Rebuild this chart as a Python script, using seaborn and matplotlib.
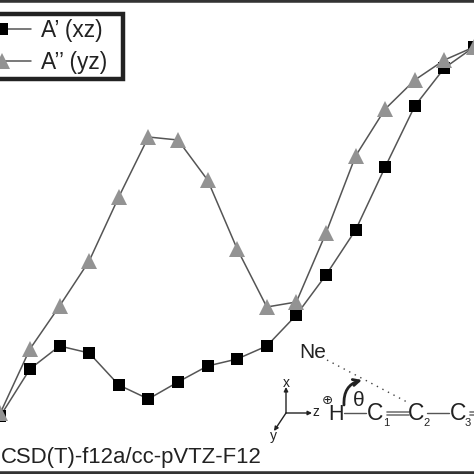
"""Ne-HC3H+ angular energy cuts, A' and A'' states."""
import matplotlib
matplotlib.use("Agg")
import matplotlib.pyplot as plt
import pandas as pd
import seaborn as sns
from matplotlib.lines import Line2D

theta = [0, 5, 10, 15, 20, 25, 30, 35, 40, 45, 50, 55, 60, 65, 70, 75, 80]
# heights (arbitrary energy units, axis is cropped)
a_prime = [58, 105, 128, 121, 89, 75, 92, 108, 115, 128, 159, 199, 244, 307, 368, 406, 427]
a_dprime = [61, 125, 168, 213, 277, 337, 334, 294, 225, 167, 172, 241, 318, 365, 394, 414, 427]

labels = ["A’ (xz)", "A’’ (yz)"]
DARK = "#333333"
GREY = "#939393"
LINE = "#555555"

df = pd.DataFrame({"theta": theta + theta,
                   "energy": a_prime + a_dprime,
                   "state": [labels[0]] * len(theta) + [labels[1]] * len(theta)})

sns.set_theme(style="white")
plt.rcParams["font.family"] = ["Liberation Sans", "DejaVu Sans"]

fig = plt.figure(figsize=(4.74, 4.74), dpi=100)
ax = fig.add_axes([0, 0, 1, 1])

sns.lineplot(data=df[df.state == labels[0]], x="theta", y="energy", ax=ax, color=LINE,
             linewidth=1.1, marker="s", markersize=8.2, markerfacecolor="black",
             markeredgecolor="black", markeredgewidth=0, zorder=3, clip_on=True)
sns.lineplot(data=df[df.state == labels[1]], x="theta", y="energy", ax=ax, color=LINE,
             linewidth=1.1, marker="^", markersize=11, markerfacecolor=GREY,
             markeredgecolor=GREY, markeredgewidth=0, zorder=4, clip_on=True)

ax.set_xlim(-0.06, 80.0)
ax.set_ylim(0, 474)
ax.set_xlabel("")
ax.set_ylabel("")
ax.set_xticks([])
ax.set_yticks([])
for side in ["left", "right"]:
    ax.spines[side].set_visible(False)
for side in ["top", "bottom"]:
    ax.spines[side].set_color(DARK)
    ax.spines[side].set_linewidth(4)

handles = [
    Line2D([], [], color=LINE, linewidth=1.1, marker="s", markersize=8.2,
           markerfacecolor="black", markeredgewidth=0),
    Line2D([], [], color=LINE, linewidth=1.1, marker="^", markersize=11,
           markerfacecolor=GREY, markeredgewidth=0),
]
leg = ax.legend(handles, labels, loc="upper left", bbox_to_anchor=(-0.067, 0.971, 0.327, 0),
                mode="expand", borderaxespad=0, fontsize=16.4, fancybox=False, framealpha=1,
                edgecolor="#222222", handlelength=2.5, handletextpad=0.44,
                labelspacing=0.36, borderpad=0.25, markerfirst=True)
leg.get_frame().set_linewidth(3.2)
leg.get_frame().set_zorder(6)
for t in leg.get_texts():
    t.set_color("#222222")


def px(x, y):
    return x / 474, 1 - y / 474


def label(x, y, s, size=14, **kw):
    fig.text(*px(x, y), s, fontsize=size, color="#222222", ha=kw.pop("ha", "center"),
             va=kw.pop("va", "center"), **kw)


def seg(x0, y0, x1, y1, **kw):
    a, b = px(x0, y0), px(x1, y1)
    fig.add_artist(Line2D([a[0], b[0]], [a[1], b[1]], transform=fig.transFigure, **kw))


def arrow(x0, y0, x1, y1, style="-|>", lw=1.0, rad=0.0, scale=6):
    ax.annotate("", xy=px(x1, y1), xytext=px(x0, y0), xycoords="figure fraction",
                textcoords="figure fraction",
                arrowprops=dict(arrowstyle=style, lw=lw, color="#222222", mutation_scale=scale,
                                shrinkA=0, shrinkB=0, connectionstyle=f"arc3,rad={rad}"))


# method text as visible in the crop
label(262, 457, "CSD(T)-f12a/cc-pVTZ-F12", size=15.9, ha="right")

# molecule sketch
label(313, 352, "Ne", size=15)
label(336, 414, "H", size=15.5)
label(375, 414, "C", size=16.5)
label(416, 414, "C", size=16.5)
label(458, 414, "C", size=16.5)
label(386, 423, "1", size=8)
label(427, 423, "2", size=8)
label(468, 423, "3", size=8)
label(327, 400, "⊕", size=9.5, family=["DejaVu Sans"])
label(359, 400, "θ", size=15)
seg(327, 360, 407, 402, color="#444444", linewidth=1.0, linestyle=(0, (1, 3.5)))
seg(344, 412.5, 366, 412.5, color=LINE, linewidth=1.0)
seg(427, 412.5, 449, 412.5, color=LINE, linewidth=1.0)
seg(387, 411.5, 409, 411.5, color="#777777", linewidth=1.2)
seg(387, 414.5, 409, 414.5, color="#777777", linewidth=1.2)
seg(470, 411.5, 474, 411.5, color="#777777", linewidth=1.2)
seg(470, 414.5, 474, 414.5, color="#777777", linewidth=1.2)
arrow(344, 405, 362, 380, lw=2.0, rad=-0.4, style="->", scale=11)

# axes triset
arrow(286, 413, 286, 387)
arrow(286, 413, 312, 413)
arrow(286, 413, 274, 431)
label(286, 383, "x", size=10)
label(316, 412, "z", size=10)
label(273, 436, "y", size=10)

fig.savefig("out.png", dpi=100)
